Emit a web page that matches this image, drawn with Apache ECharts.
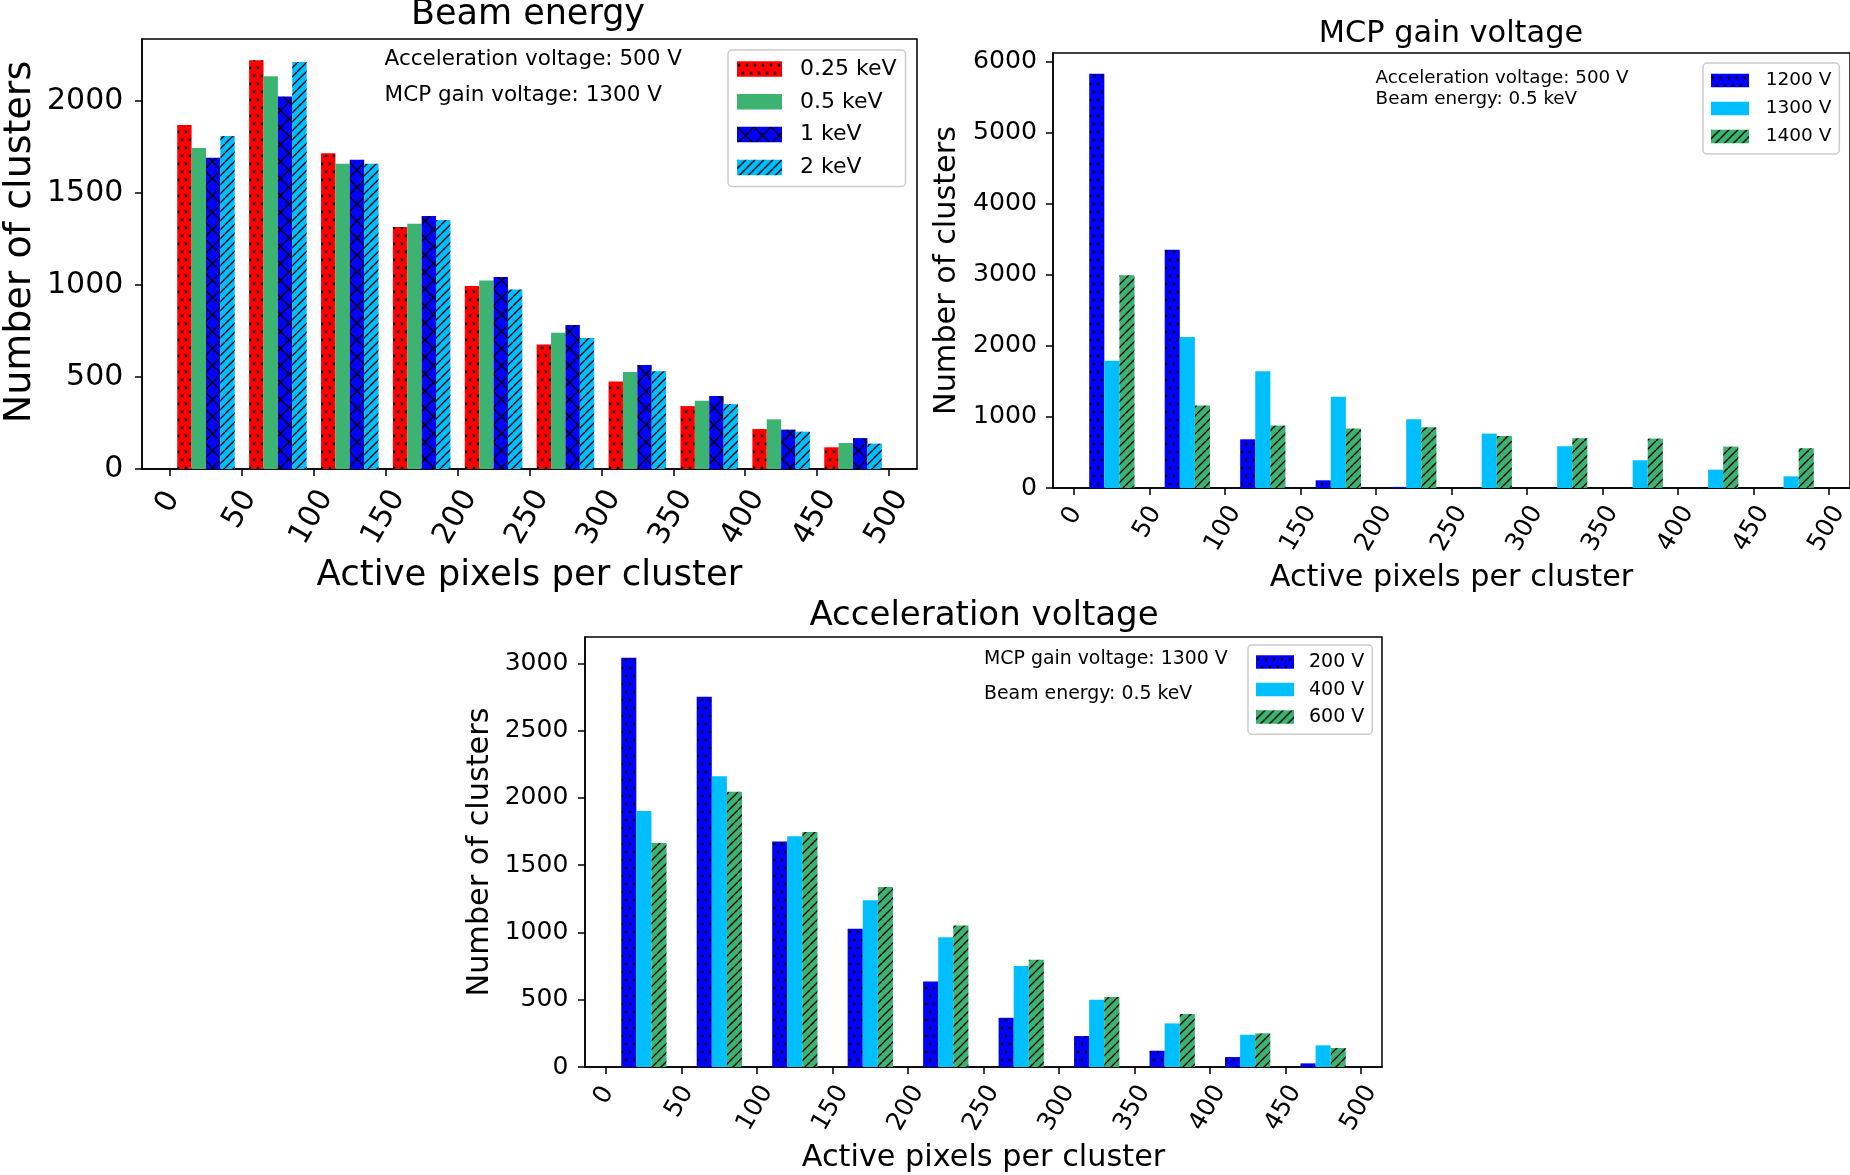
<!DOCTYPE html>
<html>
<head>
<meta charset="utf-8">
<script src="https://cdn.jsdelivr.net/npm/echarts@6/dist/echarts.min.js"></script>
<style>
  html, body { margin: 0; padding: 0; background: #fff; }
  #main { width: 1850px; height: 1175px; }
</style>
</head>
<body>
<div id="main"></div>
<script>
// ---- data ----
const binStart = [0, 50, 100, 150, 200, 250, 300, 350, 400, 450];
const xTicks = [0, 50, 100, 150, 200, 250, 300, 350, 400, 450, 500];

// Beam energy (acc. 500 V, MCP 1300 V)
const beamNames = ['0.25 keV', '0.5 keV', '1 keV', '2 keV'];
const beam025 = [1870, 2221, 1716, 1315, 995, 676, 475, 342, 217, 118];
const beam05  = [1745, 2134, 1659, 1333, 1024, 741, 527, 371, 270, 141];
const beam1   = [1692, 2025, 1681, 1375, 1043, 783, 565, 397, 214, 168];
const beam2   = [1810, 2212, 1659, 1353, 975, 712, 531, 353, 203, 138];
const yTicksBeam = [0, 500, 1000, 1500, 2000];

// MCP gain voltage (acc. 500 V, 0.5 keV)
const mcpNames = ['1200 V', '1300 V', '1400 V'];
const mcp1200 = [5826, 3352, 685, 108, 15, 0, 0, 0, 0, 0];
const mcp1300 = [1789, 2122, 1643, 1282, 967, 765, 587, 390, 258, 164];
const mcp1400 = [2991, 1160, 878, 836, 854, 732, 700, 695, 582, 559];
const yTicksMcp = [0, 1000, 2000, 3000, 4000, 5000, 6000];

// Acceleration voltage (MCP 1300 V, 0.5 keV)
const accNames = ['200 V', '400 V', '600 V'];
const acc200 = [3042, 2752, 1676, 1027, 636, 366, 230, 121, 74, 27];
const acc400 = [1903, 2161, 1715, 1240, 965, 750, 500, 324, 240, 161];
const acc600 = [1666, 2047, 1747, 1339, 1052, 797, 520, 394, 250, 141];
const yTicksAcc = [0, 500, 1000, 1500, 2000, 2500, 3000];

// ---- hatch patterns (matplotlib style) ----
const FONT = 'DejaVu Sans';
function tile(w, h, bg) {
  const c = document.createElement('canvas');
  c.width = w; c.height = h;
  const g = c.getContext('2d');
  g.fillStyle = bg; g.fillRect(0, 0, w, h);
  return [c, g];
}
function dots(bg) {
  const [c, g] = tile(8, 16, bg);
  g.fillStyle = '#000';
  [[2, 4], [6, 12]].forEach(([x, y]) => { g.beginPath(); g.arc(x, y, 1.4, 0, 2 * Math.PI); g.fill(); });
  return { image: c, repeat: 'repeat' };
}
function stripes(bg, p, cross) {
  const [c, g] = tile(p, p, bg);
  g.strokeStyle = '#000'; g.lineWidth = 1.4;
  g.beginPath();
  for (const k of [-1, 0, 1]) {
    g.moveTo(k * p, p); g.lineTo(k * p + p, 0);
    if (cross) { g.moveTo(k * p, 0); g.lineTo(k * p + p, p); }
  }
  g.stroke();
  return { image: c, repeat: 'repeat' };
}
const RED = '#ff0000', GREEN = '#3cb371', BLUE = '#0000ff', CYAN = '#00bfff';

// ---- helpers ----
const BAR_W = 10;
function barSeries(name, vals, k, off, gi, fill) {
  return {
    type: 'custom', name: name, xAxisIndex: gi, yAxisIndex: gi,
    dimensions: ['x0', 'x1', 'y'],
    encode: { x: ['x0', 'x1'], y: 'y' },
    data: binStart.map((b, i) => [b + off + k * BAR_W, b + off + (k + 1) * BAR_W, vals[i]]),
    itemStyle: { color: fill, borderWidth: 0 },
    emphasis: { disabled: true },
    renderItem: function (params, api) {
      const p0 = api.coord([api.value(0), api.value(2)]);
      const p1 = api.coord([api.value(1), 0]);
      return {
        type: 'rect',
        shape: { x: p0[0], y: p0[1], width: p1[0] - p0[0], height: p1[1] - p0[1] },
        style: { fill: fill }
      };
    }
  };
}

const measure = document.createElement('canvas').getContext('2d');
function textW(t, fs) { measure.font = fs + 'px "' + FONT + '"'; return measure.measureText(t).width; }

// rotated (60 deg) x tick labels, centred under the tick like matplotlib
function tickLabelSeries(gi, fs, gap) {
  return {
    type: 'custom', xAxisIndex: gi, yAxisIndex: gi, silent: true, clip: false,
    data: xTicks.map(v => [v, 0]),
    encode: { x: 0, y: 1 },
    renderItem: function (params, api) {
      const v = api.value(0);
      const p = api.coord([v, 0]);
      const txt = String(v);
      const a = Math.PI / 3;
      const half = (textW(txt, fs) * 0.92 * Math.sin(a) + fs * 0.73 * Math.cos(a)) / 2;
      return {
        type: 'text', x: p[0] - 2, y: p[1] + gap + half, rotation: a,
        style: {
          text: txt, fontSize: fs, fontFamily: FONT, fill: '#000',
          align: 'center', verticalAlign: 'middle', textAlign: 'center', textVerticalAlign: 'middle'
        }
      };
    }
  };
}

function xAxisOf(gi, min, max, fs, gap) {
  return {
    type: 'value', gridIndex: gi, min: min, max: max,
    axisLine: { onZero: false, lineStyle: { color: '#000', width: 1.5 } },
    axisTick: { customValues: xTicks, length: 7, lineStyle: { color: '#000', width: 1.5 } },
    axisLabel: { show: false },
    splitLine: { show: false },
    name: 'Active pixels per cluster', nameLocation: 'middle', nameGap: gap,
    nameTextStyle: { fontSize: fs, fontFamily: FONT, color: '#000' }
  };
}
function yAxisOf(gi, max, ticks, fs, margin, nfs, gap, shift) {
  return {
    type: 'value', gridIndex: gi, min: 0, max: max,
    axisLine: { show: true, onZero: false, lineStyle: { color: '#000', width: 1.5 } },
    axisTick: { show: true, customValues: ticks, length: 7, lineStyle: { color: '#000', width: 1.5 } },
    axisLabel: {
      customValues: ticks, fontSize: fs, fontFamily: FONT, color: '#000', margin: margin,
      formatter: v => String(v)
    },
    splitLine: { show: false },
    name: 'Number of clusters', nameLocation: 'middle', nameGap: gap,
    nameTextStyle: { fontSize: nfs, fontFamily: FONT, color: '#000', padding: [0, 0, 0, shift] }
  };
}
function legendOf(names, left, top, fs, iw, ih, gap, pad, tpad) {
  return {
    data: names, orient: 'vertical', left: left, top: top, icon: 'rect',
    itemWidth: iw, itemHeight: ih, itemGap: gap, selectedMode: false,
    textStyle: { fontSize: fs, fontFamily: FONT, color: '#000', padding: [0, 0, 0, tpad] },
    padding: pad, borderColor: '#cccccc', borderWidth: 1.5, borderRadius: 4,
    backgroundColor: 'rgba(255,255,255,0.8)'
  };
}
function label(text, x, y, fs, align) {
  return {
    type: 'text', x: x, y: y,
    style: {
      text: text, fontSize: fs, fontFamily: FONT, fill: '#000',
      align: align, verticalAlign: 'middle', textAlign: align, textVerticalAlign: 'middle'
    }
  };
}

const option = {
  backgroundColor: '#fff',
  animation: false,
  grid: [
    { left: 139, top: 39, width: 778, height: 430, show: true, borderColor: '#000', borderWidth: 1.5 },
    { left: 1053, top: 53, width: 797, height: 435, show: true, borderColor: '#000', borderWidth: 1.5 },
    { left: 585, top: 637, width: 797, height: 430, show: true, borderColor: '#000', borderWidth: 1.5 }
  ],
  xAxis: [
    xAxisOf(0, -19.5, 519.5, 35.5, 89),
    xAxisOf(1, -14, 514, 30.3, 75),
    xAxisOf(2, -14, 514, 30.3, 76)
  ],
  yAxis: [
    yAxisOf(0, 2337, yTicksBeam, 30, 18.7, 38, 103, 24),
    yAxisOf(1, 6118, yTicksMcp, 25.2, 16, 30.3, 91, 0),
    yAxisOf(2, 3197, yTicksAcc, 25, 16.7, 30.3, 90, 0)
  ],
  legend: [
    legendOf(beamNames, 728, 50, 22, 45, 15.5, 10.8, [8, 9, 8, 9], 13),
    legendOf(mcpNames, 1703, 63, 18.5, 38, 13.5, 9, [8, 8, 8, 8], 11.7),
    legendOf(accNames, 1248, 645, 19, 38, 13.5, 8.5, [7.6, 8, 7.6, 8], 10)
  ],
  graphic: [
    label('Beam energy', 528, 15, 35, 'center'),
    label('MCP gain voltage', 1451, 34.3, 30.4, 'center'),
    label('Acceleration voltage', 984, 616.5, 34, 'center'),
    label('Acceleration voltage: 500 V', 384.6, 59, 21.5, 'left'),
    label('MCP gain voltage: 1300 V', 384.6, 95.3, 21.5, 'left'),
    label('Acceleration voltage: 500 V', 1375.6, 78, 18.3, 'left'),
    label('Beam energy: 0.5 keV', 1375.6, 99.6, 18.3, 'left'),
    label('MCP gain voltage: 1300 V', 984, 659, 18.9, 'left'),
    label('Beam energy: 0.5 keV', 984, 694.4, 18.9, 'left')
  ],
  series: [
    barSeries('0.25 keV', beam025, 0, 5, 0, dots(RED)),
    barSeries('0.5 keV', beam05, 1, 5, 0, GREEN),
    barSeries('1 keV', beam1, 2, 5, 0, stripes(BLUE, 17, true)),
    barSeries('2 keV', beam2, 3, 5, 0, stripes(CYAN, 9, false)),
    barSeries('1200 V', mcp1200, 0, 10, 1, dots(BLUE)),
    barSeries('1300 V', mcp1300, 1, 10, 1, CYAN),
    barSeries('1400 V', mcp1400, 2, 10, 1, stripes(GREEN, 9, false)),
    barSeries('200 V', acc200, 0, 10, 2, dots(BLUE)),
    barSeries('400 V', acc400, 1, 10, 2, CYAN),
    barSeries('600 V', acc600, 2, 10, 2, stripes(GREEN, 9, false)),
    tickLabelSeries(0, 30, 20),
    tickLabelSeries(1, 25, 17),
    tickLabelSeries(2, 25, 17.5)
  ]
};

const chart = echarts.init(document.getElementById('main'), null, { renderer: 'canvas' });
chart.setOption(option);
</script>
</body>
</html>
